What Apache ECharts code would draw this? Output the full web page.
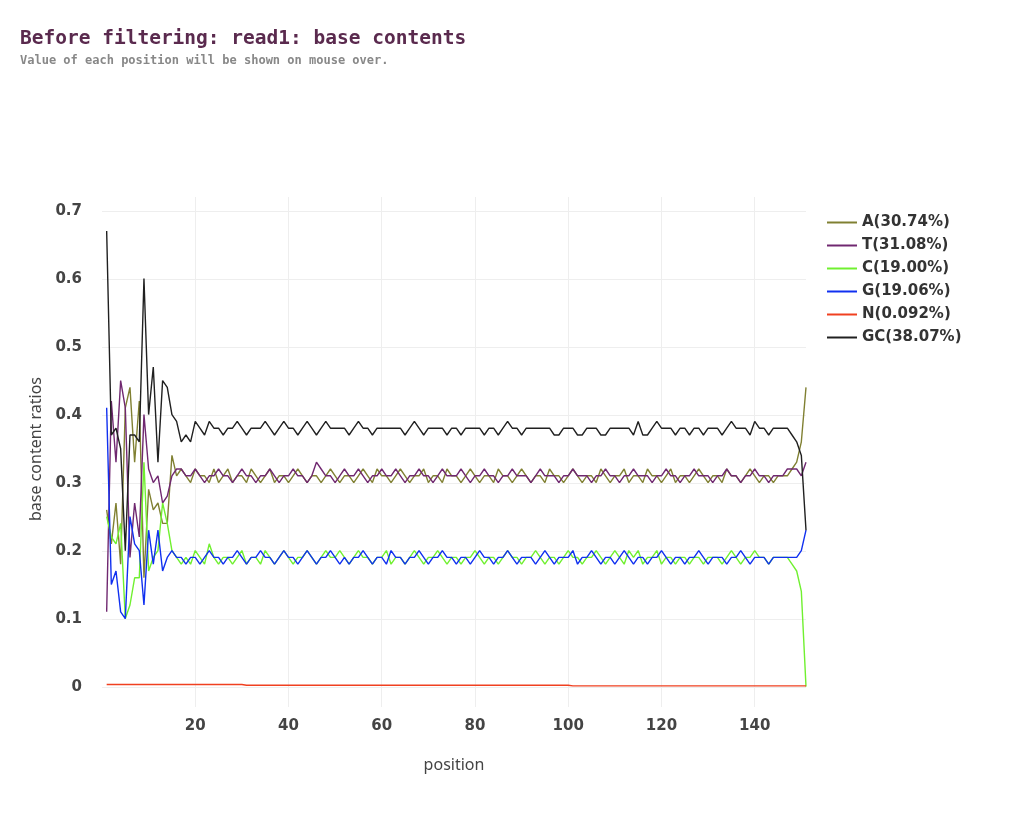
<!DOCTYPE html>
<html lang="en">
<head>
    <meta charset="UTF-8">
    <title>base contents</title>
    <style>body{margin:0;background:#fff}</style>
</head>
<body>
<div id="main" style="width:1024px;height:817px;"></div>
<script src="https://cdn.jsdelivr.net/npm/echarts@6/dist/echarts.min.js"></script>
<script type="text/javascript">
    // 每个位置的碱基含量
    var dataA = [0.26,0.21,0.27,0.18,0.41,0.44,0.33,0.42,0.16,0.29,0.26,0.27,0.24,0.24,0.34,0.31,
        0.32,0.31,0.30,0.32,0.31,0.31,0.30,0.32,0.30,0.31,
        0.32,0.30,0.31,0.31,0.30,0.32,0.31,0.30,0.31,0.32,
        0.30,0.31,0.31,0.30,0.31,0.32,0.31,0.30,0.31,0.31,
        0.30,0.31,0.32,0.31,0.30,0.31,0.31,0.30,0.31,0.32,
        0.31,0.30,0.32,0.31,0.31,0.30,0.31,0.32,0.31,0.30,
        0.31,0.31,0.32,0.30,0.31,0.31,0.30,0.32,0.31,0.31,
        0.30,0.31,0.32,0.31,0.30,0.31,0.31,0.30,0.32,0.31,
        0.31,0.30,0.31,0.32,0.31,0.30,0.31,0.31,0.30,0.32,
        0.31,0.31,0.30,0.31,0.32,0.31,0.30,0.31,0.31,0.30,
        0.32,0.31,0.30,0.31,0.31,0.32,0.30,0.31,0.31,0.30,
        0.32,0.31,0.31,0.30,0.31,0.32,0.30,0.31,0.31,0.30,
        0.31,0.32,0.31,0.30,0.31,0.31,0.30,0.32,0.31,0.31,
        0.30,0.31,0.32,0.31,0.30,0.31,0.31,0.30,0.31,
        0.31,0.31,0.32,0.33,0.36,0.44];
    var dataT = [0.11,0.42,0.33,0.45,0.41,0.19,0.27,0.22,0.40,0.32,0.30,0.31,0.27,0.28,0.31,0.32,
        0.32,0.31,0.31,0.32,0.31,0.30,0.31,0.31,0.32,0.31,
        0.31,0.30,0.31,0.32,0.31,0.31,0.30,0.31,0.31,0.32,
        0.31,0.30,0.31,0.31,0.32,0.31,0.31,0.30,0.31,0.33,
        0.32,0.31,0.31,0.30,0.31,0.32,0.31,0.31,0.32,0.31,
        0.30,0.31,0.31,0.32,0.31,0.31,0.32,0.31,0.30,0.31,
        0.31,0.32,0.31,0.31,0.30,0.31,0.32,0.31,0.31,0.31,
        0.32,0.31,0.30,0.31,0.31,0.32,0.31,0.31,0.30,0.31,
        0.31,0.32,0.31,0.31,0.31,0.30,0.31,0.32,0.31,0.31,
        0.31,0.30,0.31,0.31,0.32,0.31,0.31,0.31,0.30,0.31,
        0.31,0.32,0.31,0.31,0.30,0.31,0.31,0.32,0.31,0.31,
        0.31,0.30,0.31,0.31,0.32,0.31,0.31,0.30,0.31,0.31,
        0.32,0.31,0.31,0.31,0.30,0.31,0.31,0.32,0.31,0.31,
        0.30,0.31,0.31,0.32,0.31,0.31,0.30,0.31,0.31,
        0.31,0.32,0.32,0.32,0.31,0.33];
    var dataC = [0.25,0.22,0.21,0.24,0.10,0.12,0.16,0.16,0.33,0.17,0.19,0.20,0.27,0.24,0.20,0.19,
        0.18,0.19,0.18,0.20,0.19,0.18,0.21,0.19,0.18,0.19,
        0.19,0.18,0.19,0.20,0.18,0.19,0.19,0.18,0.20,0.19,
        0.18,0.19,0.20,0.19,0.18,0.19,0.19,0.20,0.19,0.18,
        0.19,0.20,0.19,0.19,0.20,0.19,0.18,0.19,0.20,0.19,
        0.19,0.18,0.19,0.19,0.20,0.18,0.19,0.19,0.18,0.19,
        0.20,0.19,0.18,0.19,0.19,0.20,0.19,0.18,0.19,0.19,
        0.18,0.19,0.19,0.20,0.19,0.18,0.19,0.19,0.18,0.19,
        0.20,0.19,0.19,0.18,0.19,0.19,0.20,0.19,0.18,0.19,
        0.19,0.18,0.19,0.20,0.19,0.19,0.18,0.19,0.19,0.20,
        0.19,0.18,0.19,0.20,0.19,0.18,0.20,0.19,0.20,0.18,
        0.19,0.19,0.20,0.18,0.19,0.19,0.18,0.19,0.19,0.18,
        0.19,0.19,0.18,0.19,0.19,0.19,0.18,0.19,0.20,0.19,
        0.18,0.19,0.19,0.20,0.19,0.19,0.18,0.19,0.19,
        0.19,0.19,0.18,0.17,0.14,0.00];
    var dataG = [0.41,0.15,0.17,0.11,0.10,0.25,0.21,0.20,0.12,0.23,0.18,0.23,0.17,0.19,0.20,0.19,
        0.19,0.18,0.19,0.19,0.18,0.19,0.20,0.19,0.19,0.18,
        0.19,0.19,0.20,0.19,0.18,0.19,0.19,0.20,0.19,0.19,
        0.18,0.19,0.20,0.19,0.19,0.18,0.19,0.20,0.19,0.18,
        0.19,0.19,0.20,0.19,0.18,0.19,0.18,0.19,0.19,0.20,
        0.19,0.18,0.19,0.19,0.18,0.20,0.19,0.19,0.18,0.19,
        0.19,0.20,0.19,0.18,0.19,0.19,0.20,0.19,0.19,0.18,
        0.19,0.19,0.18,0.19,0.20,0.19,0.19,0.18,0.19,0.19,
        0.20,0.19,0.18,0.19,0.19,0.19,0.18,0.19,0.20,0.19,
        0.18,0.19,0.19,0.19,0.20,0.18,0.19,0.19,0.20,0.19,
        0.18,0.19,0.19,0.18,0.19,0.20,0.19,0.18,0.19,0.19,
        0.18,0.19,0.19,0.20,0.19,0.18,0.19,0.19,0.18,0.19,
        0.19,0.20,0.19,0.18,0.19,0.19,0.19,0.18,0.19,0.19,
        0.20,0.19,0.18,0.19,0.19,0.19,0.18,0.19,0.19,
        0.19,0.19,0.19,0.19,0.20,0.23];
    var dataN = [0.003,0.003,0.003,0.003,0.003,0.003,0.003,0.003,0.003,0.003,
        0.003,0.003,0.003,0.003,0.003,0.003,0.003,0.003,0.003,0.003,
        0.003,0.003,0.003,0.003,0.003,0.003,0.003,0.003,0.003,0.003,
        0.002,0.002,0.002,0.002,0.002,0.002,0.002,0.002,0.002,0.002,
        0.002,0.002,0.002,0.002,0.002,0.002,0.002,0.002,0.002,0.002,
        0.002,0.002,0.002,0.002,0.002,0.002,0.002,0.002,0.002,0.002,
        0.002,0.002,0.002,0.002,0.002,0.002,0.002,0.002,0.002,0.002,
        0.002,0.002,0.002,0.002,0.002,0.002,0.002,0.002,0.002,0.002,
        0.002,0.002,0.002,0.002,0.002,0.002,0.002,0.002,0.002,0.002,
        0.002,0.002,0.002,0.002,0.002,0.002,0.002,0.002,0.002,0.002,
        0.001,0.001,0.001,0.001,0.001,0.001,0.001,0.001,0.001,0.001,
        0.001,0.001,0.001,0.001,0.001,0.001,0.001,0.001,0.001,0.001,
        0.001,0.001,0.001,0.001,0.001,0.001,0.001,0.001,0.001,0.001,
        0.001,0.001,0.001,0.001,0.001,0.001,0.001,0.001,0.001,0.001,
        0.001,0.001,0.001,0.001,0.001,0.001,0.001,0.001,0.001,0.001,0.001];
    var dataGC = [0.67,0.37,0.38,0.35,0.20,0.37,0.37,0.36,0.60,0.40,0.47,0.33,0.45,0.44,0.40,0.39,
        0.36,0.37,0.36,0.39,0.38,0.37,0.39,0.38,0.38,0.37,
        0.38,0.38,0.39,0.38,0.37,0.38,0.38,0.38,0.39,0.38,
        0.37,0.38,0.39,0.38,0.38,0.37,0.38,0.39,0.38,0.37,
        0.38,0.39,0.38,0.38,0.38,0.38,0.37,0.38,0.39,0.38,
        0.38,0.37,0.38,0.38,0.38,0.38,0.38,0.38,0.37,0.38,
        0.39,0.38,0.37,0.38,0.38,0.38,0.38,0.37,0.38,0.38,
        0.37,0.38,0.38,0.38,0.38,0.37,0.38,0.38,0.37,0.38,
        0.39,0.38,0.38,0.37,0.38,0.38,0.38,0.38,0.38,0.38,
        0.37,0.37,0.38,0.38,0.38,0.37,0.37,0.38,0.38,0.38,
        0.37,0.37,0.38,0.38,0.38,0.38,0.38,0.37,0.39,0.37,
        0.37,0.38,0.39,0.38,0.38,0.38,0.37,0.38,0.38,0.37,
        0.38,0.38,0.37,0.38,0.38,0.38,0.37,0.38,0.39,0.38,
        0.38,0.38,0.37,0.39,0.38,0.38,0.37,0.38,0.38,
        0.38,0.38,0.37,0.36,0.34,0.23];
    var names = ['A(30.74%)', 'T(31.08%)', 'C(19.00%)', 'G(19.06%)', 'N(0.092%)', 'GC(38.07%)'];
    var colors = ['#808032', '#702870', '#70f030', '#1030f0', '#f04020', '#202020'];

    var allData = [dataA, dataT, dataC, dataG, dataN, dataGC];
    var series = [];
    for (var s = 0; s < allData.length; s++) {
        var pts = [];
        for (var i = 0; i < allData[s].length; i++) {
            pts.push([i + 1, allData[s][i]]);
        }
        series.push({
            name: names[s],
            type: 'line',
            data: pts,
            showSymbol: false,
            lineStyle: {width: 1.4, color: colors[s]},
            itemStyle: {color: colors[s]}
        });
    }

    var labelStyle = {fontWeight: 'bold', fontSize: 15, color: '#444', fontFamily: 'DejaVu Sans'};
    var myChart = echarts.init(document.getElementById('main'));
    var option = {
        animation: false,
        title: {
            text: 'Before filtering: read1: base contents',
            subtext: 'Value of each position will be shown on mouse over.',
            left: 15, top: 24,
            textStyle: {fontFamily: 'DejaVu Sans Mono', fontWeight: 'bold', fontSize: 19.5, color: '#5a2a4e'},
            subtextStyle: {fontFamily: 'DejaVu Sans Mono', fontWeight: 'bold', fontSize: 12, color: '#888'},
            itemGap: 6
        },
        tooltip: {trigger: 'axis'},
        legend: {
            orient: 'vertical', left: 822, top: 210, itemGap: 8,
            icon: 'path://M0,5L30,5L30,7L0,7Z', itemWidth: 30, itemHeight: 15,
            textStyle: {fontFamily: 'DejaVu Sans', fontWeight: 'bold', fontSize: 15, color: '#333'},
            data: names
        },
        grid: [
            {left: 102, right: 218, top: 197, bottom: 110},
            {left: 102, right: 218, top: 211, bottom: 130}
        ],
        xAxis: [{
            type: 'value', min: 0, max: 151, interval: 20, gridIndex: 0,
            name: 'position', nameLocation: 'middle', nameGap: 50,
            nameTextStyle: {fontSize: 16, color: '#444', fontFamily: 'Noto Sans'},
            axisLine: {show: false}, axisTick: {show: false},
            axisLabel: Object.assign({margin: 12, showMinLabel: false, showMaxLabel: false}, labelStyle),
            splitLine: {show: true, showMinLine: false, showMaxLine: false, lineStyle: {color: '#eee'}}
        }, {
            type: 'value', min: 0, max: 151, gridIndex: 1, show: false
        }],
        yAxis: [{
            type: 'value', min: -0.03, max: 0.72, gridIndex: 0, show: false
        }, {
            type: 'value', min: 0, max: 0.7, interval: 0.1, gridIndex: 1,
            name: 'base content ratios', nameLocation: 'middle', nameGap: 46,
            nameTextStyle: {fontSize: 16, color: '#444', fontFamily: 'Noto Sans'},
            axisLine: {show: false}, axisTick: {show: false},
            axisLabel: Object.assign({margin: 20}, labelStyle),
            splitLine: {show: true, lineStyle: {color: '#eee'}}
        }],
        series: series
    };
    myChart.setOption(option);
</script>
</body>
</html>
